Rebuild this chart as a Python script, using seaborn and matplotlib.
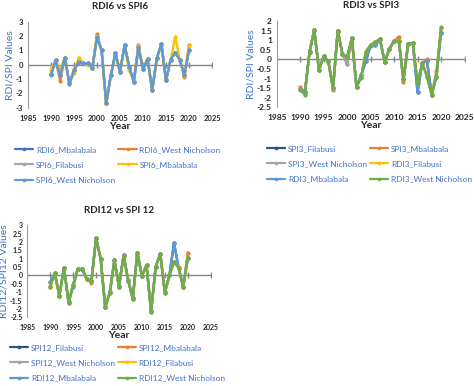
import pandas as pd
import matplotlib
matplotlib.use("Agg")
import matplotlib.pyplot as plt
from matplotlib.lines import Line2D
import seaborn as sns

# years shared by every series
years = list(range(1990, 2021))

# RDI6 vs SPI6
rdi6_mbalabala = [-0.65, 0.3, -0.75, 0.5, -1.3, -0.4, 0.2, 0.1, 0.1, -0.2, 1.9, 1.0, -2.7, -0.75, 0.8, -0.5, 1.35, -0.15, -1.2, 1.2,
                  -0.3, 0.4, -1.8, 0.45, 1.45, -1.1, 0.35, 0.85, 0.35, -0.75, 1.05]
rdi6_west_nicholson = [-0.65, 0.3, -1.15, 0.5, -1.3, -0.4, 0.3, 0.1, 0.05, -0.2, 2.15, 1.0, -2.7, -0.75, 0.8, -0.5, 1.35, -0.2, -1.2, 1.4,
                       -0.3, 0.4, -1.8, 0.45, 1.45, -1.1, 0.35, 0.85, 0.35, -0.85, 1.35]
spi6_filabusi = [-0.65, 0.3, -0.75, 0.5, -1.3, -0.4, 0.2, 0.1, 0.1, -0.2, 1.9, 1.0, -2.7, -0.75, 0.8, -0.5, 1.35, -0.15, -1.2, 1.2,
                 -0.3, 0.4, -1.8, 0.45, 1.45, -1.1, 0.35, 0.85, 0.35, -0.75, 1.05]
spi6_mbalabala = [-0.35, 0.35, -0.4, 0.5, -1.3, -0.6, 0.5, 0.1, 0.0, -0.2, 2.0, 1.0, -2.7, -0.75, 0.6, -0.4, 1.3, -0.4, -1.1, 1.3,
                  -0.2, 0.4, -1.8, 0.4, 1.3, -1.0, 0.3, 1.95, 0.35, -0.8, 1.3]
spi6_west_nicholson = [-0.7, 0.3, -0.75, 0.5, -1.35, -0.4, 0.2, 0.1, 0.1, -0.2, 1.9, 1.0, -2.7, -0.75, 0.8, -0.5, 1.35, -0.15, -1.2, 1.2,
                       -0.3, 0.4, -1.8, 0.45, 1.45, -1.1, 0.35, 0.85, 0.35, -0.75, 1.05]

# RDI3 vs SPI3
spi3_filabusi = [-1.55, -1.7, 0.4, 1.55, -0.55, 0.15, -0.1, -1.5, 1.5, 0.27, 0.1, 1.1, -1.45, -0.8, -0.1, 0.75, 0.75, 1.05, -0.15, 0.55,
                 0.95, 0.95, -1.05, 0.82, 0.85, -1.7, -0.18, -0.1, -1.85, -0.9, 1.4]
spi3_mbalabala = [-1.45, -1.7, 0.4, 1.55, -0.55, 0.15, -0.1, -1.58, 1.5, 0.27, -0.25, 1.1, -1.45, -0.9, 0.4, 0.75, 0.9, 1.05, -0.15, 0.55,
                  0.95, 1.18, -1.2, 0.82, 0.85, -1.25, -0.18, 0.0, -1.85, -0.62, 1.45]
spi3_west_nicholson = [-1.55, -1.8, 0.4, 1.55, -0.55, 0.15, -0.1, -1.5, 1.5, 0.27, -0.25, 1.1, -1.45, -0.9, 0.4, 0.75, 0.9, 1.05, -0.15, 0.55,
                       0.95, 0.95, -1.05, 0.82, 0.85, -1.25, -0.18, -0.9, -1.85, -0.9, 1.65]
rdi3_filabusi = [-1.55, -1.7, 0.4, 1.55, -0.55, 0.15, -0.1, -1.5, 1.5, 0.27, 0.1, 1.1, -1.45, -0.9, 0.4, 0.75, 0.9, 1.05, -0.15, 0.55,
                 0.95, 0.95, -1.05, 0.82, 0.85, -1.25, -0.18, -0.9, -1.85, -0.9, 1.65]
rdi3_mbalabala = [-1.55, -1.7, 0.4, 1.5, -0.55, 0.15, -0.15, -1.5, 1.5, 0.27, 0.1, 1.1, -1.45, -0.8, -0.1, 0.7, 0.75, 1.05, -0.15, 0.55,
                  0.95, 0.95, -1.05, 0.82, 0.85, -1.7, -0.18, -0.1, -1.85, -0.9, 1.4]
rdi3_west_nicholson = [-1.6, -1.85, 0.4, 1.55, -0.55, 0.15, -0.1, -1.5, 1.5, 0.27, 0.1, 1.1, -1.45, -0.95, 0.4, 0.75, 0.9, 1.05, -0.15, 0.55,
                       0.95, 0.95, -1.0, 0.82, 0.85, -1.25, -0.18, -0.9, -1.85, -0.9, 1.67]

# RDI12 vs SPI 12
spi12_filabusi = [-0.4, 0.12, -1.2, 0.46, -1.6, -0.55, 0.38, 0.38, -0.24, -0.3, 2.25, 1.0, -1.9, -1.0, 0.9, -0.65, 1.2, -0.3, -1.35, 1.37,
                  -0.04, 0.62, -2.15, 0.52, 1.3, -1.0, 0.02, 1.94, 0.46, -0.67, 1.05]
spi12_mbalabala = [-0.65, 0.12, -1.2, 0.46, -1.6, -0.6, 0.38, 0.38, -0.24, -0.44, 2.25, 1.0, -1.9, -1.0, 0.9, -0.67, 1.2, -0.3, -1.41, 1.37,
                   -0.04, 0.62, -2.15, 0.52, 1.3, -1.0, 0.02, 0.81, 0.46, -0.67, 1.37]
spi12_west_nicholson = [-0.67, 0.12, -1.23, 0.46, -1.63, -0.54, 0.38, 0.38, -0.24, -0.32, 2.26, 1.0, -1.9, -1.03, 0.91, -0.67, 1.19, -0.28, -1.4, 1.37,
                        -0.04, 0.62, -2.16, 0.52, 1.31, -1.03, 0.02, 0.81, 0.46, -0.67, 1.05]
rdi12_filabusi = [-0.67, 0.12, -1.23, 0.46, -1.63, -0.54, 0.38, 0.38, -0.24, -0.32, 2.26, 1.0, -1.9, -1.03, 0.91, -0.67, 1.19, -0.28, -1.4, 1.37,
                  -0.04, 0.62, -2.16, 0.52, 1.31, -1.03, 0.02, 0.81, 0.46, -0.67, 1.05]
rdi12_mbalabala = [-0.4, 0.12, -1.2, 0.46, -1.6, -0.7, 0.38, 0.38, -0.24, -0.3, 2.25, 1.0, -1.9, -1.0, 0.9, -0.65, 1.2, -0.3, -1.35, 1.37,
                   -0.04, 0.62, -2.15, 0.52, 1.3, -1.0, 0.02, 1.94, 0.46, -0.67, 1.05]
rdi12_west_nicholson = [-0.67, 0.12, -1.23, 0.46, -1.63, -0.54, 0.38, 0.38, -0.24, -0.32, 2.26, 1.0, -1.9, -1.03, 0.91, -0.67, 1.19, -0.28, -1.4, 1.37,
                        -0.04, 0.62, -2.16, 0.52, 1.31, -1.03, 0.02, 0.81, 0.46, -0.67, 1.05]

xticks = list(range(1985, 2030, 5))

BLUE = "#4472C4"
NAVY = "#2F528F"
ORANGE = "#ED7D31"
GRAY = "#A5A5A5"
GOLD = "#FFC000"
LBLUE = "#5B9BD5"
GREEN = "#70AD47"

sns.set_theme(style="white")
plt.rcParams['font.family'] = ['Lato', 'DejaVu Sans']

fig = plt.figure(figsize=(4.74, 3.86), dpi=100)


def panel(rect, title, series, colors, ylim, ystep, ylabel, legend_anchor, tick_fs, colspace):
    ax = fig.add_axes(rect)
    names = [n for n, _ in series]
    # axis line at zero with crossing tick marks
    ax.plot(xticks, [0] * len(xticks), color="#868686", lw=1.0, marker="|",
            markersize=4, markeredgewidth=1.0, zorder=1)
    for (name, vals), c in zip(series, colors):
        sns.lineplot(x=years, y=vals, color=c, marker="o", markersize=3.0,
                     markeredgewidth=0, linewidth=1.7, sort=False, ax=ax, zorder=3)
    ax.set_xlim(1985, 2025)
    ax.set_ylim(*ylim)
    yt = []
    v = ylim[0]
    while v <= ylim[1] + 1e-9:
        yt.append(round(v, 2))
        v += ystep
    ax.set_yticks(yt)
    ax.set_yticklabels([("%g" % t) for t in yt])
    ax.set_xticks(xticks)
    for s in ["top", "right", "bottom"]:
        ax.spines[s].set_visible(False)
    ax.spines["left"].set_color("#A0A0A0")
    ax.spines["left"].set_linewidth(0.8)
    ax.tick_params(axis="y", direction="inout", length=3, width=0.6, color="#A0A0A0",
                   labelsize=tick_fs, pad=2)
    ax.tick_params(axis="x", length=0, labelsize=tick_fs, pad=5)
    for lab in ax.get_xticklabels() + ax.get_yticklabels():
        lab.set_fontweight("bold")
        lab.set_color("#262626")
    ax.set_title(title, fontsize=7, fontweight="bold", pad=9)
    ax.set_xlabel("Year", fontsize=7.5, fontweight="bold", labelpad=0)
    ax.set_ylabel(ylabel, fontsize=7.5, color=BLUE, labelpad=1)
    ax.set_facecolor("white")

    handles = [Line2D([], [], color=c, lw=1.6, marker="o", markersize=2.6, markeredgewidth=0)
               for c in colors]
    # legend reads row by row in the reference; matplotlib fills by column
    order = list(range(0, len(names), 2)) + list(range(1, len(names), 2))
    fig.legend([handles[i] for i in order], [names[i] for i in order], ncol=2,
               loc="upper left", bbox_to_anchor=legend_anchor, frameon=False,
               fontsize=6.0, labelcolor=BLUE, handlelength=2.2, handletextpad=0.3,
               columnspacing=colspace, labelspacing=1.0, borderpad=0, borderaxespad=0)
    return ax


W, H = 474, 386


def rect(x0, x1, y0, y1):
    return [x0 / W, 1 - y1 / H, (x1 - x0) / W, (y1 - y0) / H]


panel(rect(28, 212, 21.7, 107.7), "RDI6 vs SPI6",
      [("RDI6_Mbalabala", rdi6_mbalabala), ("RDI6_West Nicholson", rdi6_west_nicholson),
       ("SPI6_Filabusi", spi6_filabusi), ("SPI6_Mbalabala", spi6_mbalabala),
       ("SPI6_West Nicholson", spi6_west_nicholson)],
      [BLUE, ORANGE, GRAY, GOLD, LBLUE], (-3, 3), 1, "RDI/SPI Values",
      (15 / W, 1 - 146 / H), 5.5, 0.4)

panel(rect(276.7, 464.5, 21, 107.3), "RDI3 vs SPI3",
      [("SPI3_Filabusi", spi3_filabusi), ("SPI3_Mbalabala", spi3_mbalabala),
       ("SPI3_West Nicholson", spi3_west_nicholson), ("RDI3_Filabusi", rdi3_filabusi),
       ("RDI3_Mbalabala", rdi3_mbalabala), ("RDI3_West Nicholson", rdi3_west_nicholson)],
      [NAVY, ORANGE, GRAY, GOLD, LBLUE, GREEN], (-2.5, 2), 0.5, "RDI/SPI Values",
      (267 / W, 1 - 145 / H), 6, 0.35)

panel(rect(27.3, 210.7, 225.3, 317.3), "RDI12 vs SPI 12",
      [("SPI12_Filabusi", spi12_filabusi), ("SPI12_Mbalabala", spi12_mbalabala),
       ("SPI12_West Nicholson", spi12_west_nicholson), ("RDI12_Filabusi", rdi12_filabusi),
       ("RDI12_Mbalabala", rdi12_mbalabala), ("RDI12_West Nicholson", rdi12_west_nicholson)],
      [NAVY, ORANGE, GRAY, GOLD, LBLUE, GREEN], (-2.5, 3), 0.5, "RDI12/SPI12 Values",
      (10 / W, 1 - 344 / H), 5, 0.35)

fig.savefig("out.png", dpi=100, facecolor="white")
